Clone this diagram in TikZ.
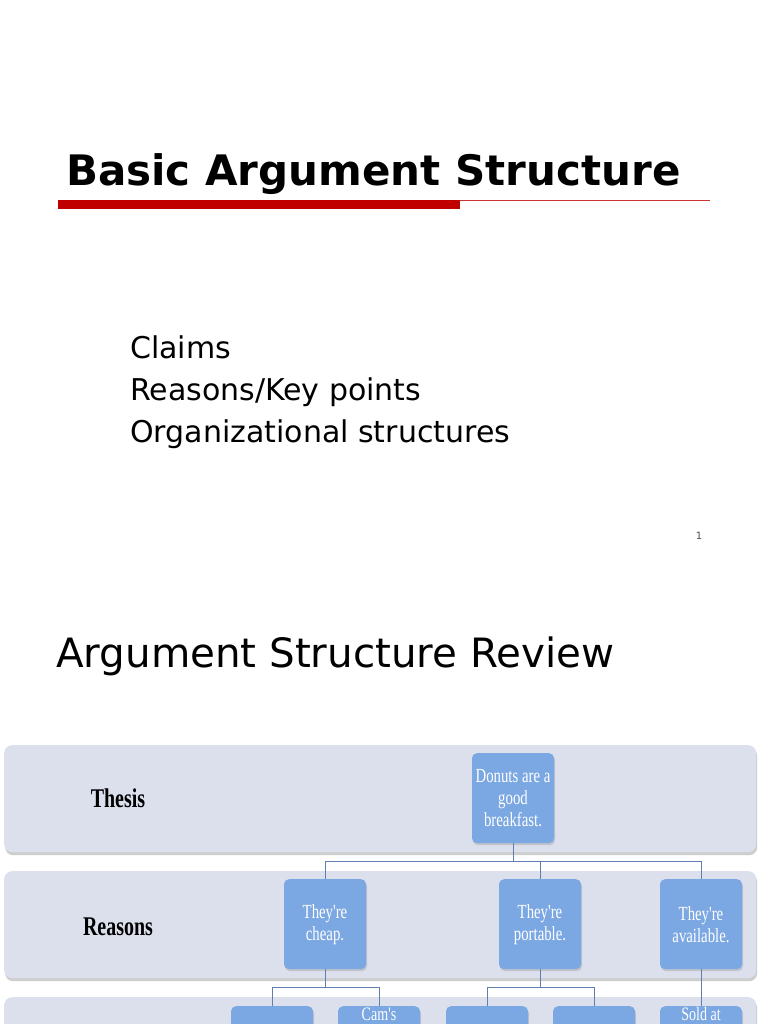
\documentclass[tikz,border=0pt]{standalone}
\usepackage{fontspec}
\setmainfont{DejaVu Sans}
\newfontfamily\slabfont[FakeStretch=0.74]{Liberation Serif}
\usetikzlibrary{shadows,positioning}

\definecolor{bandgray}{RGB}{220,224,237}
\definecolor{blockblue}{RGB}{123,167,226}
\definecolor{connblue}{RGB}{96,126,176}
\definecolor{titlered}{RGB}{192,0,0}

\begin{document}
\begin{tikzpicture}[x=1pt, y=-1pt,
  band/.style={rectangle, rounded corners=8pt, fill=bandgray, minimum width=752pt,
    minimum height=107pt, anchor=north west,
    drop shadow={shadow xshift=1pt, shadow yshift=-3pt, opacity=0.35, fill=black!55}},
  block/.style={rectangle, rounded corners=5pt, fill=blockblue, text=white, anchor=north,
    minimum width=82pt, minimum height=90pt, inner sep=3pt, align=center,
    font=\slabfont\fontsize{20}{22}\selectfont,
    drop shadow={shadow xshift=1pt, shadow yshift=-2pt, opacity=0.3, fill=black!50}},
  boxtext/.style={text=white, anchor=north, inner sep=0pt,
    font=\slabfont\fontsize{19}{22}\selectfont},
  conn/.style={draw=connblue, line width=1pt},
  rowlabel/.style={font=\slabfont\bfseries\fontsize{27}{30}\selectfont, anchor=base},
  item/.style={font=\fontsize{30}{34}\selectfont, anchor=base west, inner sep=0pt}
  ]
  \useasboundingbox (0,0) rectangle (768,1024);
  \fill[white] (0,0) rectangle (768,1024);
  \clip (0,0) rectangle (768,1024);

  % slide 1
  \node[font=\bfseries\fontsize{42}{48}\selectfont, anchor=base west, inner sep=0pt] (title) at (66,186) {Basic Argument Structure};
  \fill[titlered] (58,200) rectangle (460,209);
  \draw[titlered!80, line width=1pt] (460,201) -- (710,201);

  \node[item] (claims) at (130,358) {Claims};
  \node[item] (reasonsitem) at (130,400) {Reasons/Key points};
  \node[item] (orgitem) at (130,442) {Organizational structures};

  \node[font=\fontsize{10}{12}\selectfont, text=black!70] (pagenum) at (699,536) {1};

  % slide 2
  \node[font=\fontsize{40.4}{46}\selectfont, anchor=base west, inner sep=0pt] (review) at (56,667) {Argument Structure Review};

  \node[band] (thesisband) at (4,745) {};
  \node[band] (reasonband) at (4,871) {};
  \node[band] (detailband) at (4,997) {};

  \node[rowlabel] (thesislbl) at (118,807) {Thesis};
  \node[rowlabel] (reasonlbl) at (118,935) {Reasons};

  \node[block] (thesis) at (513,753) {Donuts are a\\good\\breakfast.};

  \node[block] (cheap) at (325,879) {They're\\cheap.};
  \node[block] (portable) at (540,879) {They're\\portable.};
  \node[block] (available) at (701,879) {They're\\available.};

  \node[block] (sofa) at (272,1006) {};
  \node[block] (cams) at (379,1006) {};
  \node[block] (carry) at (487,1006) {};
  \node[block] (hands) at (594,1006) {};
  \node[block] (sold) at (701,1006) {};
  \node[boxtext] (camstxt) at ([yshift=-2pt]cams.north) {Cam's};
  \node[boxtext] (soldtxt) at ([yshift=-1pt]sold.north) {Sold at};

  \draw[conn] (thesis.south) -- ++(0,18) -| (cheap.north);
  \draw[conn] (thesis.south) -- ++(0,18) -| (portable.north);
  \draw[conn] (thesis.south) -- ++(0,18) -| (available.north);

  \draw[conn] (cheap.south) -- ++(0,18) -| (sofa.north);
  \draw[conn] (cheap.south) -- ++(0,18) -| (cams.north);
  \draw[conn] (portable.south) -- ++(0,18) -| (carry.north);
  \draw[conn] (portable.south) -- ++(0,18) -| (hands.north);
  \draw[conn] (available.south) -- (sold.north);

\end{tikzpicture}
\end{document}
